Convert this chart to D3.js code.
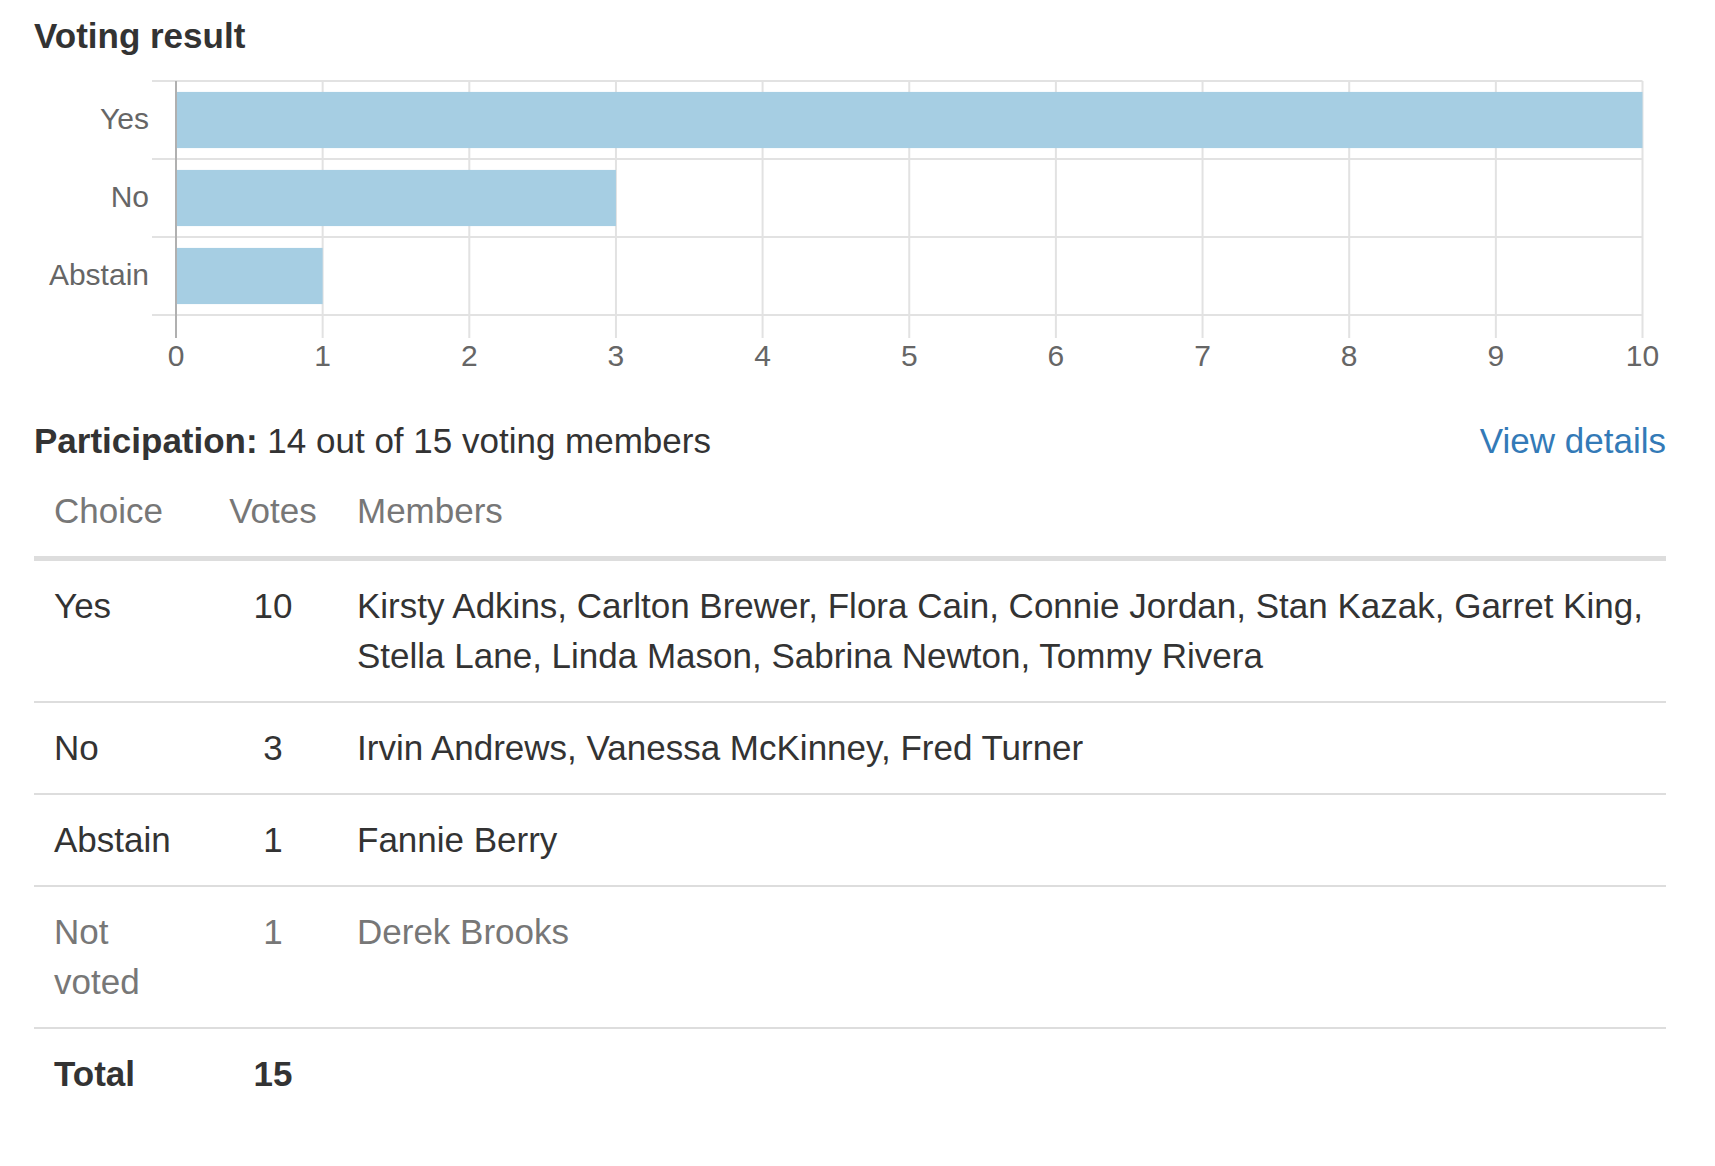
<!DOCTYPE html>
<html>
<head>
<meta charset="utf-8">
<script src="https://cdn.jsdelivr.net/npm/d3@7"></script>
<style>
  body { margin: 0; background: #fff; font-family: "Liberation Sans", Arial, Helvetica, sans-serif; color: #333; }
  #chart { display: block; }
  .wrap { margin-left: 34px; width: 1632px; font-size: 35px; line-height: 50px; }
  .info { margin-top: 16px; height: 50px; }
  .info b { font-weight: bold; }
  .info a { float: right; color: #337ab7; text-decoration: none; }
  table { width: 100%; border-collapse: collapse; table-layout: fixed; }
  th, td { padding: 20px; text-align: left; vertical-align: top; }
  th { color: #777; font-weight: normal; border-bottom: 5px solid #ddd; }
  td { border-top: 2.5px solid #ddd; }
  .num { text-align: center; }
  tr.muted td { color: #777; }
  tr.total td { font-weight: bold; }
</style>
</head>
<body>
<svg id="chart" width="1715" height="400"></svg>
<div class="wrap">
  <div class="info" id="info"></div>
  <table id="tbl">
    <colgroup><col style="width:175px"><col style="width:128px"><col></colgroup>
    <thead></thead>
    <tbody></tbody>
  </table>
</div>
<script>
// chart data
const choices = ["Yes", "No", "Abstain"];
const votes = [10, 3, 1];

// table data
const rowChoices = ["Yes", "No", "Abstain", "Not voted"];
const rowVotes = [10, 3, 1, 1];
const rowMembers = [
  ["Kirsty Adkins", "Carlton Brewer", "Flora Cain", "Connie Jordan", "Stan Kazak", "Garret King",
   "Stella Lane", "Linda Mason", "Sabrina Newton", "Tommy Rivera"],
  ["Irvin Andrews", "Vanessa McKinney", "Fred Turner"],
  ["Fannie Berry"],
  ["Derek Brooks"]
];
const headers = ["Choice", "Votes", "Members"];
const participated = 14;
const totalMembers = 15;

const svg = d3.select("#chart");

// title
svg.append("text")
  .attr("x", 34).attr("y", 48)
  .attr("font-size", 35).attr("font-weight", "bold").attr("fill", "#333")
  .text("Voting result");

// scales
const plotLeft = 176, plotRight = 1642.5, plotTop = 81, plotBottom = 315;
const x = d3.scaleLinear().domain([0, d3.max(votes)]).range([plotLeft, plotRight]);
const y = d3.scaleBand().domain(choices).range([plotTop, plotBottom]).paddingInner(0.28).paddingOuter(0.14);

const grid = svg.append("g");

// vertical gridlines (extend below plot as ticks)
grid.selectAll("line.v")
  .data(x.ticks(10).filter(d => d > 0))
  .join("line")
  .attr("x1", d => x(d)).attr("x2", d => x(d))
  .attr("y1", plotTop).attr("y2", plotBottom + 23)
  .attr("stroke", "#e2e2e2").attr("stroke-width", 2);

// horizontal lines at category boundaries
const bounds = choices.map(c => y(c) - y.step() * y.paddingInner() / 2).concat([plotBottom]);
grid.selectAll("line.h")
  .data(bounds)
  .join("line")
  .attr("x1", plotLeft - 24).attr("x2", plotRight)
  .attr("y1", d => d).attr("y2", d => d)
  .attr("stroke", "#e2e2e2").attr("stroke-width", 2);

// bars
svg.append("g").selectAll("rect")
  .data(choices)
  .join("rect")
  .attr("x", x(0))
  .attr("y", d => y(d))
  .attr("width", (d, i) => x(votes[i]) - x(0))
  .attr("height", y.bandwidth())
  .attr("fill", "#a6cee3");

// baseline at zero
svg.append("line")
  .attr("x1", x(0)).attr("x2", x(0))
  .attr("y1", plotTop).attr("y2", plotBottom + 23)
  .attr("stroke", "#b0b0b0").attr("stroke-width", 2);

// x tick labels
svg.append("g").selectAll("text")
  .data(x.ticks(10))
  .join("text")
  .attr("x", d => x(d)).attr("y", 366)
  .attr("text-anchor", "middle")
  .attr("font-size", 30).attr("fill", "#666")
  .text(d => d);

// category labels
svg.append("g").selectAll("text")
  .data(choices)
  .join("text")
  .attr("x", 149)
  .attr("y", d => y(d) + y.bandwidth() / 2)
  .attr("dy", "0.3em")
  .attr("text-anchor", "end")
  .attr("font-size", 30).attr("fill", "#666")
  .text(d => d);

// participation line
const info = d3.select("#info");
info.append("b").text("Participation:");
info.append("span").text(` ${participated} out of ${totalMembers} voting members`);
info.append("a").attr("href", "#").text("View details");

// table
const tbl = d3.select("#tbl");
tbl.select("thead").append("tr").selectAll("th")
  .data(headers)
  .join("th")
  .attr("class", (d, i) => i === 1 ? "num" : null)
  .text(d => d);

const rows = tbl.select("tbody").selectAll("tr")
  .data(rowChoices)
  .join("tr")
  .attr("class", d => d === "Not voted" ? "muted" : null);
rows.append("td").text(d => d);
rows.append("td").attr("class", "num").text((d, i) => rowVotes[i]);
rows.append("td").text((d, i) => rowMembers[i].join(", "));

const totalRow = tbl.select("tbody").append("tr").attr("class", "total");
totalRow.append("td").text("Total");
totalRow.append("td").attr("class", "num").text(d3.sum(rowVotes));
totalRow.append("td").text("");
</script>
</body>
</html>
